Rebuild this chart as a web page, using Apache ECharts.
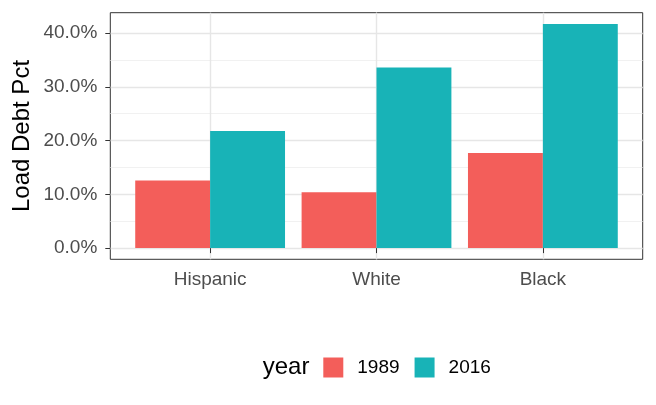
<!DOCTYPE html>
<html>
<head>
<meta charset="utf-8">
<script src="https://cdn.jsdelivr.net/npm/echarts@6/dist/echarts.min.js"></script>
<style>
html,body{margin:0;padding:0;background:#fff;}
#c{width:656px;height:405px;}
</style>
</head>
<body>
<div id="c"></div>
<script>
var categories = ['Hispanic', 'White', 'Black'];
var years = ['1989', '2016'];
var values1989 = [12.6, 10.4, 17.7];
var values2016 = [21.8, 33.6, 41.7];
var yTicks = [0, 10, 20, 30, 40];
var yMinor = [5, 15, 25, 35];
var xTicks = [1, 2, 3];

var FONT = 'Liberation Sans, Arial, Helvetica, sans-serif';
var chart = echarts.init(document.getElementById('c'), null, {renderer: 'canvas'});

function pairs(vals) { return vals.map(function (v, i) { return [xTicks[i], v]; }); }

var option = {
  animation: false,
  backgroundColor: '#ffffff',
  textStyle: {fontFamily: FONT},
  grid: {left: 110.3, top: 12.7, right: 13.3, bottom: 145.7, show: true, borderColor: '#333333', borderWidth: 1, backgroundColor: 'transparent', containLabel: false},
  xAxis: {
    type: 'value', min: 0.4, max: 3.6,
    axisLine: {show: false},
    axisTick: {show: true, customValues: xTicks, length: 5, lineStyle: {color: '#333333', width: 1}},
    axisLabel: {show: true, customValues: xTicks, margin: 11, fontSize: 19, color: '#4D4D4D', fontFamily: FONT,
      formatter: function (v) { var i = xTicks.indexOf(v); return i >= 0 ? categories[i] : ''; }},
    splitLine: {show: true, lineStyle: {color: '#E6E6E6', width: 1.4}}
  },
  yAxis: [{
    type: 'value', min: -2.08, max: 43.8,
    name: 'Load Debt Pct', nameLocation: 'middle', nameGap: 76, nameMoveOverlap: false,
    nameTextStyle: {fontSize: 24, color: '#000000', fontFamily: FONT},
    axisLine: {show: false},
    axisTick: {show: true, customValues: yTicks, length: 5, lineStyle: {color: '#333333', width: 1}},
    axisLabel: {show: true, customValues: yTicks, margin: 13, fontSize: 19, color: '#4D4D4D', fontFamily: FONT,
      formatter: function (v) { return v.toFixed(1) + '%'; }},
    splitLine: {show: true, lineStyle: {color: '#E6E6E6', width: 1.4}}
  }, {
    type: 'value', min: -2.08, max: 43.8, position: 'left',
    axisLine: {show: false},
    axisTick: {show: false, customValues: yMinor},
    axisLabel: {show: false, customValues: yMinor},
    splitLine: {show: true, lineStyle: {color: '#EDEDED', width: 0.8}}
  }],
  legend: {
    left: 323.3, top: 357.5, padding: 0, orient: 'horizontal',
    itemWidth: 20, itemHeight: 20, itemGap: 15, icon: 'rect',
    data: years,
    textStyle: {fontSize: 19, color: '#000000', fontFamily: FONT, padding: [0, 0, 0, 9]}
  },
  graphic: [{
    type: 'text', left: 262.7, top: 355,
    style: {text: 'year', fontSize: 24, fill: '#000000', fontFamily: FONT}
  }],
  series: [{
    name: years[0], type: 'bar', barWidth: 74.9, barGap: '0%',
    itemStyle: {color: '#F35E5A'},
    data: pairs(values1989)
  }, {
    name: years[1], type: 'bar', barWidth: 74.9, barGap: '0%',
    itemStyle: {color: '#18B3B7'},
    data: pairs(values2016)
  }]
};
chart.setOption(option);
</script>
</body>
</html>
